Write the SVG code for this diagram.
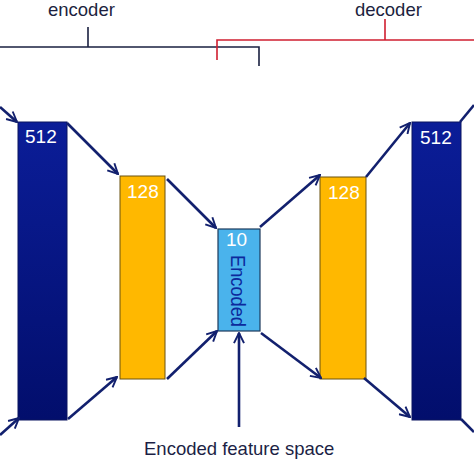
<svg xmlns="http://www.w3.org/2000/svg" width="474" height="474" viewBox="0 0 474 474">
<style>
.lbl{font-family:"Liberation Sans",Arial,sans-serif;}
.cap{font-size:18.5px;fill:#1c1f45;}
.num{font-size:19px;fill:#ffffff;}
.conn{stroke:#12206e;stroke-width:2.6;fill:none;marker-end:url(#ah);}
.big{fill:url(#gBlue);stroke:#0a1460;stroke-width:1;}
.mid{fill:#ffb800;stroke:#6b5210;stroke-width:1;}
.enc{fill:#4ab3ec;stroke:#1d3a5c;stroke-width:1.2;}
</style>
<defs>
<linearGradient id="gBlue" x1="0" y1="0" x2="0" y2="1">
<stop offset="0" stop-color="#0b1d98"/>
<stop offset="1" stop-color="#020e6c"/>
</linearGradient>
<marker id="ah" viewBox="0 0 10 10" refX="9" refY="5" markerWidth="4.6" markerHeight="4.6" markerUnits="strokeWidth" orient="auto">
<path d="M0.5,0.8 L9,5 L0.5,9.2" fill="none" stroke="#12206e" stroke-width="1.6"/>
</marker>
</defs>
<rect width="474" height="474" fill="#ffffff"/>
<g id="brackets">
<path d="M0,47 H259 V66 M88,47 V27" fill="none" stroke="#1a2040" stroke-width="1.6"/>
<path d="M217,60 V40 H474 M385,40 V19" fill="none" stroke="#d01f30" stroke-width="1.6"/>
<text class="lbl" x="48" y="16" font-size="18.5" fill="#1c1f40">encoder</text>
<text class="lbl" x="355" y="16" font-size="18.5" fill="#1c1f40">decoder</text>
</g>
<g id="enc512"><rect class="big" x="18" y="122" width="49" height="298"/><text class="lbl num" x="25" y="143">512</text></g>
<g id="enc128"><rect class="mid" x="120" y="176" width="45" height="203"/><text class="lbl num" x="127" y="198">128</text></g>
<g id="encoded"><rect class="enc" x="218" y="229" width="42" height="102"/><text class="lbl num" x="226" y="246">10</text>
<text class="lbl" font-size="21" fill="#0c2a9c" textLength="72" lengthAdjust="spacingAndGlyphs" transform="translate(231,255) rotate(90)">Encoded</text></g>
<g id="dec128"><rect class="mid" x="320" y="177" width="46" height="202"/><text class="lbl num" x="328" y="199">128</text></g>
<g id="dec512"><rect class="big" x="412" y="122" width="49" height="298"/><text class="lbl num" x="420" y="144">512</text></g>
<g id="connectors">
<path class="conn" d="M0,107 L17,122"/>
<path class="conn" d="M67,123 L118,174"/>
<path class="conn" d="M167,179 L216,228"/>
<path class="conn" d="M0,435 L19,418"/>
<path class="conn" d="M68,419 L117,377"/>
<path class="conn" d="M167,379 L217,331"/>
<path class="conn" d="M239,427 V333"/>
<path class="conn" d="M260,227 L320,175"/>
<path class="conn" d="M366,177 L410,123"/>
<path d="M460,122 L474,105" stroke="#12206e" stroke-width="2.6" fill="none"/>
<path class="conn" d="M261,333 L321,378"/>
<path class="conn" d="M364,378 L410,417"/>
<path d="M461,419 L474,432" stroke="#12206e" stroke-width="2.6" fill="none"/>
</g>
<text id="caption" class="lbl cap" x="144" y="455">Encoded feature space</text>
</svg>
